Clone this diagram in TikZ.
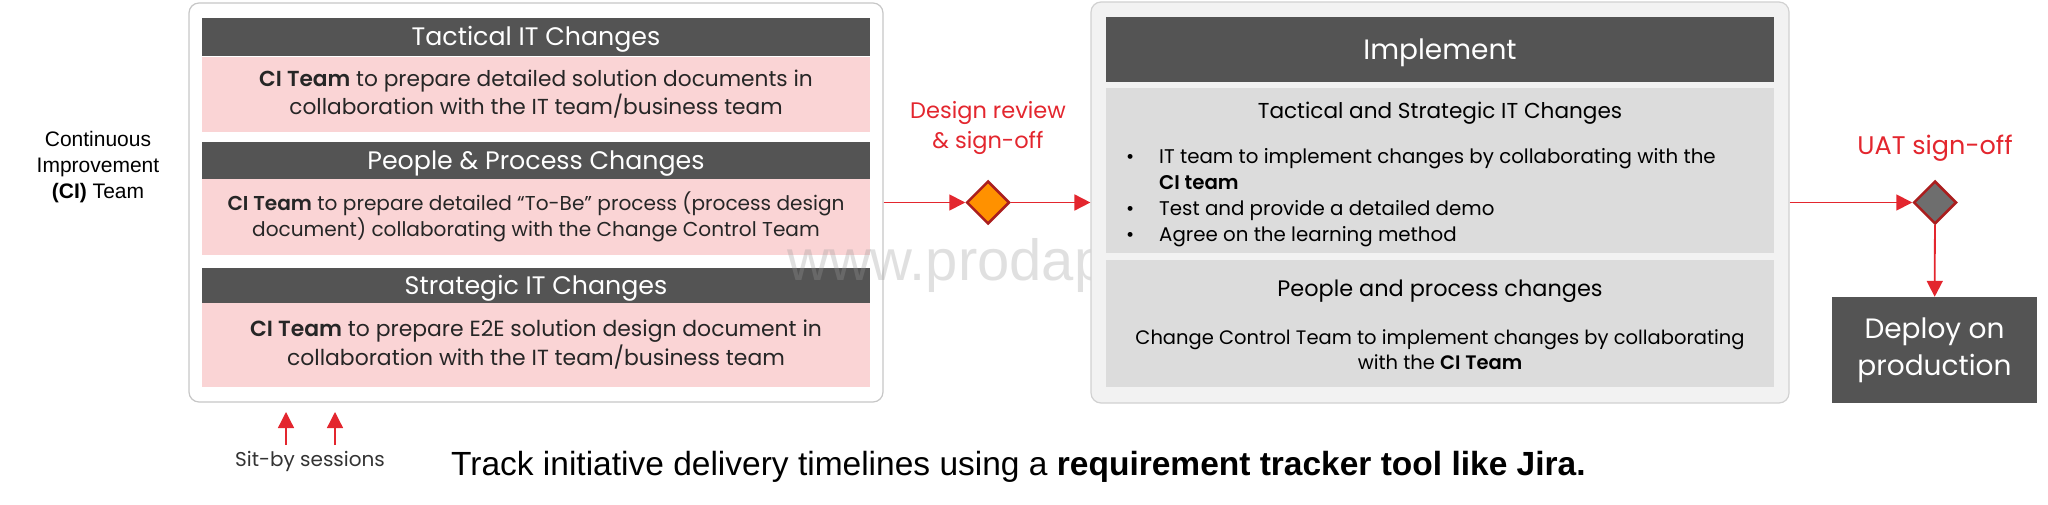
\documentclass[tikz,border=0pt]{standalone}
\usepackage{fontspec}
\setmainfont{Poppins}[BoldFont={Poppins SemiBold}]
\newfontfamily\arialfont{Liberation Sans}
\usetikzlibrary{arrows.meta,shapes.geometric}

\definecolor{hdrgray}{RGB}{84,84,84}
\definecolor{pinkfill}{RGB}{250,212,213}
\definecolor{panelgray}{RGB}{220,220,220}
\definecolor{panelback}{RGB}{242,242,242}
\definecolor{arrowred}{RGB}{227,38,46}
\definecolor{darkred}{RGB}{170,30,30}
\definecolor{signorange}{RGB}{255,145,0}

\tikzset{
  hdr/.style={fill=hdrgray,text=white,minimum width=668pt,inner sep=0pt,
    text height=17.7pt,text depth=0pt,font=\fontsize{25.3}{29}\selectfont},
  pinkbox/.style={fill=pinkfill,text=black!85,minimum width=668pt,inner sep=0pt,
    align=center,font=\fontsize{21.7}{28}\selectfont},
  panel/.style={fill=panelgray,minimum width=668pt,inner sep=0pt},
  signoff/.style={diamond,draw=darkred,line width=2.5pt,minimum size=43pt,
    inner sep=0pt,aspect=1},
  redarrow/.style={draw=arrowred,line width=1.8pt,-{Triangle[length=16pt,width=16pt]}},
  redlabel/.style={text=arrowred,align=center,font=\fontsize{22.5}{30}\selectfont}
}

\begin{document}
\begin{tikzpicture}[x=1pt,y=-1pt]
  \useasboundingbox (0,0) rectangle (2048,505);

  \node[align=center,font=\arialfont\fontsize{21}{26}\selectfont] (ci) at (98,167)
    {Continuous\\Improvement\\\textbf{(CI)} Team};

  % left column
  \node[draw=black!22,line width=1.2pt,rounded corners=10pt,fill=white,
    minimum width=694pt,minimum height=399pt] (leftbox) at (536,202.5) {};
  \node[hdr,minimum height=38pt] (tacthdr) at (536,37) {Tactical IT Changes};
  \node[pinkbox,minimum height=75pt] (tactbody) at (536,94.5)
    {\textbf{CI Team} to prepare detailed solution documents in\\
     collaboration with the IT team/business team};
  \node[hdr,minimum height=37pt] (pplhdr) at (536,160.5) {People \& Process Changes};
  \node[pinkbox,minimum height=76pt,font=\fontsize{20.1}{26}\selectfont] (pplbody) at (536,217)
    {\textbf{CI Team} to prepare detailed “To-Be” process (process design\\
     document) collaborating with the Change Control Team};
  \node[hdr,minimum height=35pt] (strathdr) at (536,285.5) {Strategic IT Changes};
  \node[pinkbox,minimum height=84pt,font=\fontsize{21.9}{29}\selectfont] (stratbody) at (536,345)
    {\textbf{CI Team} to prepare E2E solution design document in\\
     collaboration with the IT team/business team};

  % watermark
  \node[anchor=base west,inner sep=0pt,text=black!40,opacity=.3,
    font=\arialfont\fontsize{58}{58}\selectfont] (mark) at (787,280) {www.prodapt.com};

  % implement column
  \node[draw=black!18,line width=1.2pt,rounded corners=10pt,fill=panelback,
    minimum width=698pt,minimum height=401pt] (midbox) at (1440,202.5) {};
  \node[hdr,minimum height=65pt,text height=19.6pt,font=\fontsize{28}{34}\selectfont] (impl)
    at (1440,49.5) {Implement};
  \node[panel,minimum height=165pt] (tsbox) at (1440,170.5) {};
  \node[panel,minimum height=127pt] (ppbox) at (1440,323.5) {};
  \node[font=\fontsize{21.6}{26}\selectfont] (tstitle) at (1440,113) {Tactical and Strategic IT Changes};
  \node[anchor=north west,inner sep=0pt,font=\fontsize{19.8}{26}\selectfont] (tslist) at (1126,145)
    {\begin{tabular}{@{}p{33pt}@{}l@{}}
      \textbullet & IT team to implement changes by collaborating with the\\
       & \textbf{CI team}\\
      \textbullet & Test and provide a detailed demo\\
      \textbullet & Agree on the learning method
     \end{tabular}};
  \node[font=\fontsize{22.4}{26}\selectfont] (pptitle) at (1440,291) {People and process changes};
  \node[align=center,font=\fontsize{19.5}{25}\selectfont] (ppbody) at (1440,350)
    {Change Control Team to implement changes by collaborating\\
     with the \textbf{CI Team}};

  % sign-offs
  \node[signoff,fill=signorange] (design) at (988,202.5) {};
  \node[redlabel] (designlbl) at (988,128) {Design review\\\& sign-off};
  \node[signoff,fill=black!57] (uat) at (1935,202.5) {};
  \node[redlabel,font=\fontsize{25.5}{30}\selectfont] (uatlbl) at (1935,148) {UAT sign-off};
  \node[fill=hdrgray,text=white,align=center,minimum width=205pt,minimum height=106pt,
    inner sep=0pt,font=\fontsize{28}{37}\selectfont] (deploy) at (1934.5,350)
    {Deploy on\\production};

  \draw[redarrow] (leftbox) -- (design);
  \draw[redarrow] (design) -- (midbox);
  \draw[redarrow] (midbox) -- (uat);
  \draw[redarrow] (uat) -- (deploy);

  % sit-by sessions
  \node[text=black!80,font=\fontsize{20}{22}\selectfont] (sitby) at (310,461) {Sit-by sessions};
  \coordinate (sit1a) at (286,445);
  \coordinate (sit1b) at (286,412);
  \coordinate (sit2a) at (335,445);
  \coordinate (sit2b) at (335,412);
  \draw[redarrow,line width=1.3pt] (sit1a) -- (sit1b);
  \draw[redarrow,line width=1.3pt] (sit2a) -- (sit2b);

  \node[anchor=west,inner sep=0pt,font=\arialfont\fontsize{33.5}{36}\selectfont] (track) at (451,467)
    {Track initiative delivery timelines using a \textbf{requirement tracker tool like Jira.}};
\end{tikzpicture}
\end{document}
